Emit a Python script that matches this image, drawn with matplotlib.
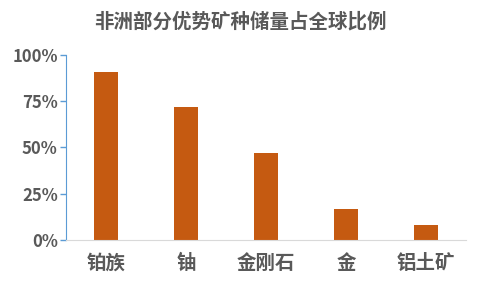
import matplotlib.pyplot as plt
import numpy as np

plt.rcParams['font.family'] = ['Noto Sans CJK SC', 'DejaVu Sans']

minerals = ['铂族', '铀', '金刚石', '金', '铝土矿']
share = [91, 72, 47, 17, 8]
yticks = [0, 25, 50, 75, 100]

fig = plt.figure(figsize=(4.8, 2.88), dpi=100)
ax = fig.add_axes([0.1375, 0.1667, 0.8335, 0.6423])

x = np.arange(len(minerals))
ax.bar(x, share, width=0.31, color='#C55A11')

ax.set_xlim(-0.5, len(minerals) - 0.5)
ax.set_ylim(0, 100)
ax.set_yticks(yticks)
ax.set_yticklabels([f'{v}%' for v in yticks], fontsize=12, fontweight='bold', color='#595959')
ax.set_xticks(x)
ax.set_xticklabels(minerals, fontsize=14, fontweight='bold', color='#595959')

for s in ['top', 'right']:
    ax.spines[s].set_visible(False)
ax.spines['left'].set_color('#5B9BD5')
ax.spines['bottom'].set_color('#D9D9D9')
ax.tick_params(axis='y', colors='#5B9BD5', length=4, width=1, labelcolor='#595959', pad=2)
ax.tick_params(axis='x', length=0, pad=10)

fig.text(0.5, 0.925, '非洲部分优势矿种储量占全球比例', ha='center', va='center',
         fontsize=14, fontweight='bold', color='#595959')

fig.savefig('out.png')
